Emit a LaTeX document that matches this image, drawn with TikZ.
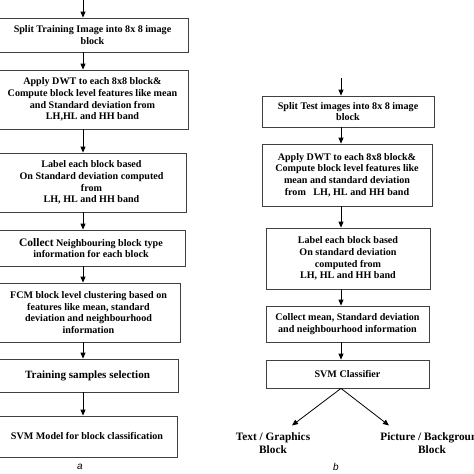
\documentclass[tikz,border=0pt]{standalone}
\usepackage{fontspec}
\setmainfont{Liberation Serif}
\setsansfont{Liberation Sans}
\usetikzlibrary{arrows.meta}
\tikzset{
stepbox/.style={
	  draw=black!75, line width=0.8pt, inner sep=0pt, align=center,
	    font=\bfseries\fontsize{10.1}{11.7}\selectfont},
flow/.style={-{Triangle[length=6pt,width=5pt]}, line width=0.8pt},
leaf/.style={align=center, inner sep=0pt,
	font=\bfseries\fontsize{11.3}{12.7}\selectfont}
}
\newcommand{\bigw}[1]{{\fontsize{11.5}{11.7}\selectfont #1}}

\begin{document}
\begin{tikzpicture}[x=1pt, y=-1pt]
	\clip (0,0) rectangle (474,474);
	% training (a)
	\node[stepbox, minimum width=191, minimum height=34] (tr1) at (92.5,35)
		{Split Training Image into 8x 8 image\\block};
	\node[stepbox, minimum width=191, minimum height=59] (tr2) at (92.5,99.5)
		{Apply DWT to each 8x8 block\&\\Compute block level features like mean\\and Standard deviation from\\LH,HL and HH band};
	\node[stepbox, minimum width=189, minimum height=59] (tr3) at (91.5,182.5)
		{Label each block based\\On Standard deviation computed\\from\\LH, HL and HH band};
	\node[stepbox, minimum width=188, minimum height=36] (tr4) at (91,248)
		{\bigw{Collect} Neighbouring block type\\information for each block};
	\node[stepbox, minimum width=183, minimum height=59] (tr5) at (88.5,312.5)
		{FCM block level clustering based on\\features like mean, standard\\deviation and neighbourhood\\information};
	\node[stepbox, minimum width=181, minimum height=33, font=\bfseries\fontsize{11.1}{12}\selectfont] (tr6) at (87.5,375.5)
		{Training samples selection};
	\node[stepbox, minimum width=180, minimum height=41] (tr7) at (87,436.5)
		{SVM Model for block classification};
	\coordinate (trIn) at (83,0);
	\draw[flow] (trIn) -- (trIn |- tr1.north);
	\foreach \a/\b in {tr1/tr2, tr2/tr3, tr3/tr4, tr4/tr5, tr5/tr6, tr6/tr7}
		\draw[flow] (\a.south -| trIn) -- (\b.north -| trIn);
	\node[font=\sffamily\itshape\fontsize{10}{12}\selectfont] (capA) at (80,467) {a};

	% testing (b)
	\node[stepbox, minimum width=172, minimum height=31] (te1) at (348,111.5)
		{Split Test images into 8x 8 image\\block};
	\node[stepbox, minimum width=170, minimum height=62] (te2) at (347,175)
		{Apply DWT to each 8x8 block\&\\Compute block level features like\\mean and standard deviation\\from\ \ \ LH, HL and HH band};
	\node[stepbox, minimum width=164, minimum height=61] (te3) at (348,258.5)
		{Label each block based\\On standard deviation\\computed from\\LH, HL and HH band};
	\node[stepbox, minimum width=163, minimum height=36] (te4) at (347.5,324)
		{Collect mean, Standard deviation\\and neighbourhood information};
	\node[stepbox, minimum width=163, minimum height=28] (te5) at (347.5,374)
		{SVM Classifier};
	\coordinate (teIn) at (341,78);
	\draw[flow] (teIn) -- (teIn |- te1.north);
	\foreach \a/\b in {te1/te2, te2/te3, te3/te4, te4/te5}
		\draw[flow] (\a.south -| teIn) -- (\b.north -| teIn);
	\node[leaf] (txt) at (273,443) {Text / Graphics\\Block};
	\node[leaf] (pic) at (432,443) {Picture / Background\\Block};
	\draw[flow] (te5.south -| teIn) -- ([xshift=19pt, yshift=7pt]txt.north);
	\draw[flow] (te5.south -| teIn) -- ([xshift=-43pt, yshift=7pt]pic.north);
	\node[font=\sffamily\itshape\fontsize{10}{12}\selectfont] (capB) at (336,467) {b};
\end{tikzpicture}
\end{document}
